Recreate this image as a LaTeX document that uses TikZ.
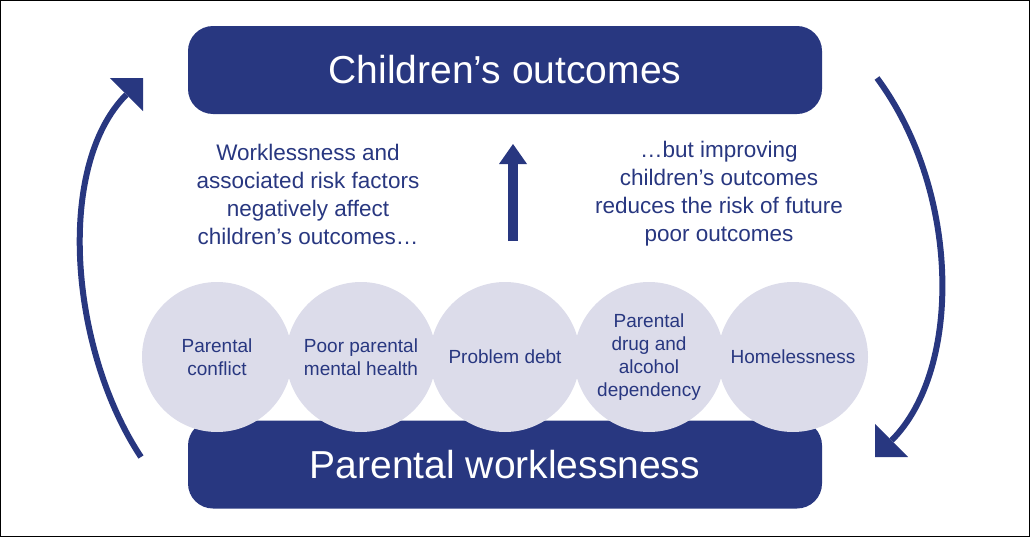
\documentclass[tikz,border=0pt]{standalone}
\usepackage{fontspec}
\setmainfont{Liberation Sans}
\usetikzlibrary{arrows.meta}
\definecolor{navy}{RGB}{40,55,128}
\definecolor{lav}{RGB}{220,220,234}
\begin{document}
\begin{tikzpicture}[x=1pt,y=-1pt,
  bigbox/.style={fill=navy, rounded corners=25pt, minimum width=634pt, minimum height=88pt,
    text=white, font=\fontsize{39}{47}\selectfont, inner sep=0pt},
  factor/.style={circle, fill=lav, minimum size=150pt, inner sep=0pt, text=navy,
    font=\fontsize{19}{23}\selectfont, align=center},
  caption/.style={text=navy, font=\fontsize{22.5}{28}\selectfont, align=center, inner sep=0pt},
  looparrow/.style={draw=navy, line width=6pt, -{Triangle[width=47pt,length=23.5pt,line width=0pt]}},
  uparrow/.style={draw=navy, line width=10pt, -{Triangle[width=28pt,length=20pt,line width=0pt]}},
]
\useasboundingbox (0,0) rectangle (1031,538);
\draw[line width=1.2pt] (0.6,0.6) rectangle (1029.5,536.5);

\node[bigbox] (top) at (505,70) {Children’s outcomes};
\node[bigbox] (bottom) at (505,464.5) {Parental worklessness};

\node[factor] (c1) at (217,357) {Parental\\conflict};
\node[factor] (c2) at (361,357) {Poor parental\\mental health};
\node[factor] (c3) at (505,357) {Problem debt};
\node[factor] (c4) at (649,357) {Parental\\drug and\\alcohol\\dependency};
\node[factor] (c5) at (793,357) {Homelessness};

\node[caption] (left) at (308,194) {Worklessness and\\associated risk factors\\negatively affect\\children’s outcomes…};
\node[caption] (right) at (719,194) {…but improving\\children’s outcomes\\reduces the risk of future\\poor outcomes};

\coordinate (ua) at (513,241);
\coordinate (ub) at (513,144);
\draw[uparrow] (ua) -- (ub);

\coordinate (ls) at (141,457);
\coordinate (le) at (143,78);
\draw[looparrow] (ls) .. controls (70,350) and (55,166) .. (le);

\coordinate (rs) at (877,78);
\coordinate (re) at (875,457);
\draw[looparrow] (rs) .. controls (960,190) and (963,369) .. (re);
\end{tikzpicture}
\end{document}
